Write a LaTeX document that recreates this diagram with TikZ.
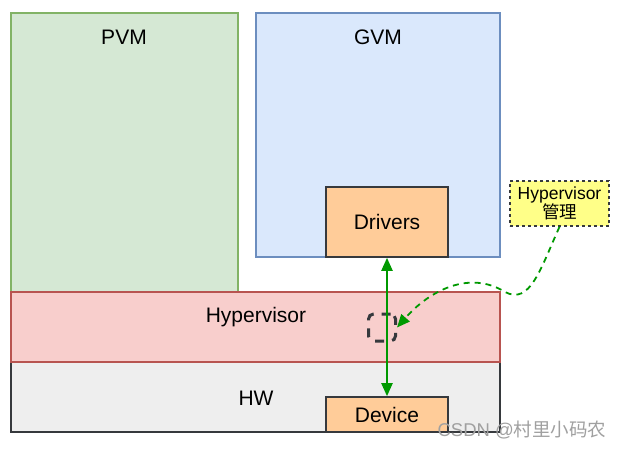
\documentclass[tikz,border=0pt]{standalone}
\usepackage{fontspec}
\setmainfont{Liberation Sans}
\newfontfamily\cjk{Noto Sans CJK SC}
\usetikzlibrary{arrows.meta}
\definecolor{grn}{HTML}{009900}
\definecolor{pvmf}{HTML}{D5E8D4}\definecolor{pvmd}{HTML}{82B366}
\definecolor{gvmf}{HTML}{DAE8FC}\definecolor{gvmd}{HTML}{6C8EBF}
\definecolor{hwf}{HTML}{EEEEEE}\definecolor{dk}{HTML}{36393D}
\definecolor{hypf}{HTML}{F8CECC}\definecolor{hypd}{HTML}{B85450}
\definecolor{org}{HTML}{FFCC99}\definecolor{yel}{HTML}{FFFF88}
\definecolor{wmc}{HTML}{A0A0A0}
\begin{document}
\begin{tikzpicture}[x=1pt,y=-1pt,font=\fontsize{21}{24}\selectfont,
 box/.style={draw,line width=1.6pt},
 lbl/.style={inner sep=0pt}]
\useasboundingbox[fill=white] (0,0) rectangle (623,449);
\draw[box,fill=pvmf,draw=pvmd] (11,13) rectangle (238,292);
\draw[box,fill=gvmf,draw=gvmd] (256,13) rectangle (500,257);
\draw[box,fill=hwf,draw=dk] (11,362) rectangle (500,432);
\draw[box,fill=hypf,draw=hypd] (11,292) rectangle (500,362);
\node[box,fill=org,draw=dk,minimum width=122pt,minimum height=70pt] (drv) at (387,222) {Drivers};
\node[box,fill=org,draw=dk,minimum width=122pt,minimum height=35pt,inner sep=1pt] (dev) at (387,414.5) {Device};
\node[lbl] (pvm) at (124,37) {PVM};
\node[lbl] (gvm) at (378,37) {GVM};
\node[lbl] (hyp) at (256,317) {Hypervisor};
\node[lbl] (hw) at (256,398) {HW};
\node[draw=dk,line width=3pt,dash pattern=on 9pt off 8pt,rounded corners=5pt,minimum width=27pt,minimum height=27pt] (vd) at (382,327.5) {};
\node[draw=dk,fill=yel,dashed,line width=1.6pt,minimum width=99pt,minimum height=45pt,align=center,inner sep=1pt,font=\fontsize{17.5}{19}\selectfont] (note) at (559.5,203.5) {Hypervisor\\{\cjk 管理}};
\draw[grn,line width=2.2pt,{Triangle[length=13pt,width=11pt]}-{Triangle[length=13pt,width=11pt]}] (dev.north) -- (drv.south);
\draw[grn,line width=1.8pt,dash pattern=on 6pt off 5pt,-{Triangle[length=13pt,width=11pt]}] (note.south) .. controls (540,270) and (530,305) .. (505,292) .. controls (470,270) and (430,290) .. (vd.east);
\node[text=wmc,font=\fontsize{18.5}{20}\selectfont] (wm) at (522,430) {CSDN @{\cjk 村里小码农}};
\end{tikzpicture}
\end{document}
